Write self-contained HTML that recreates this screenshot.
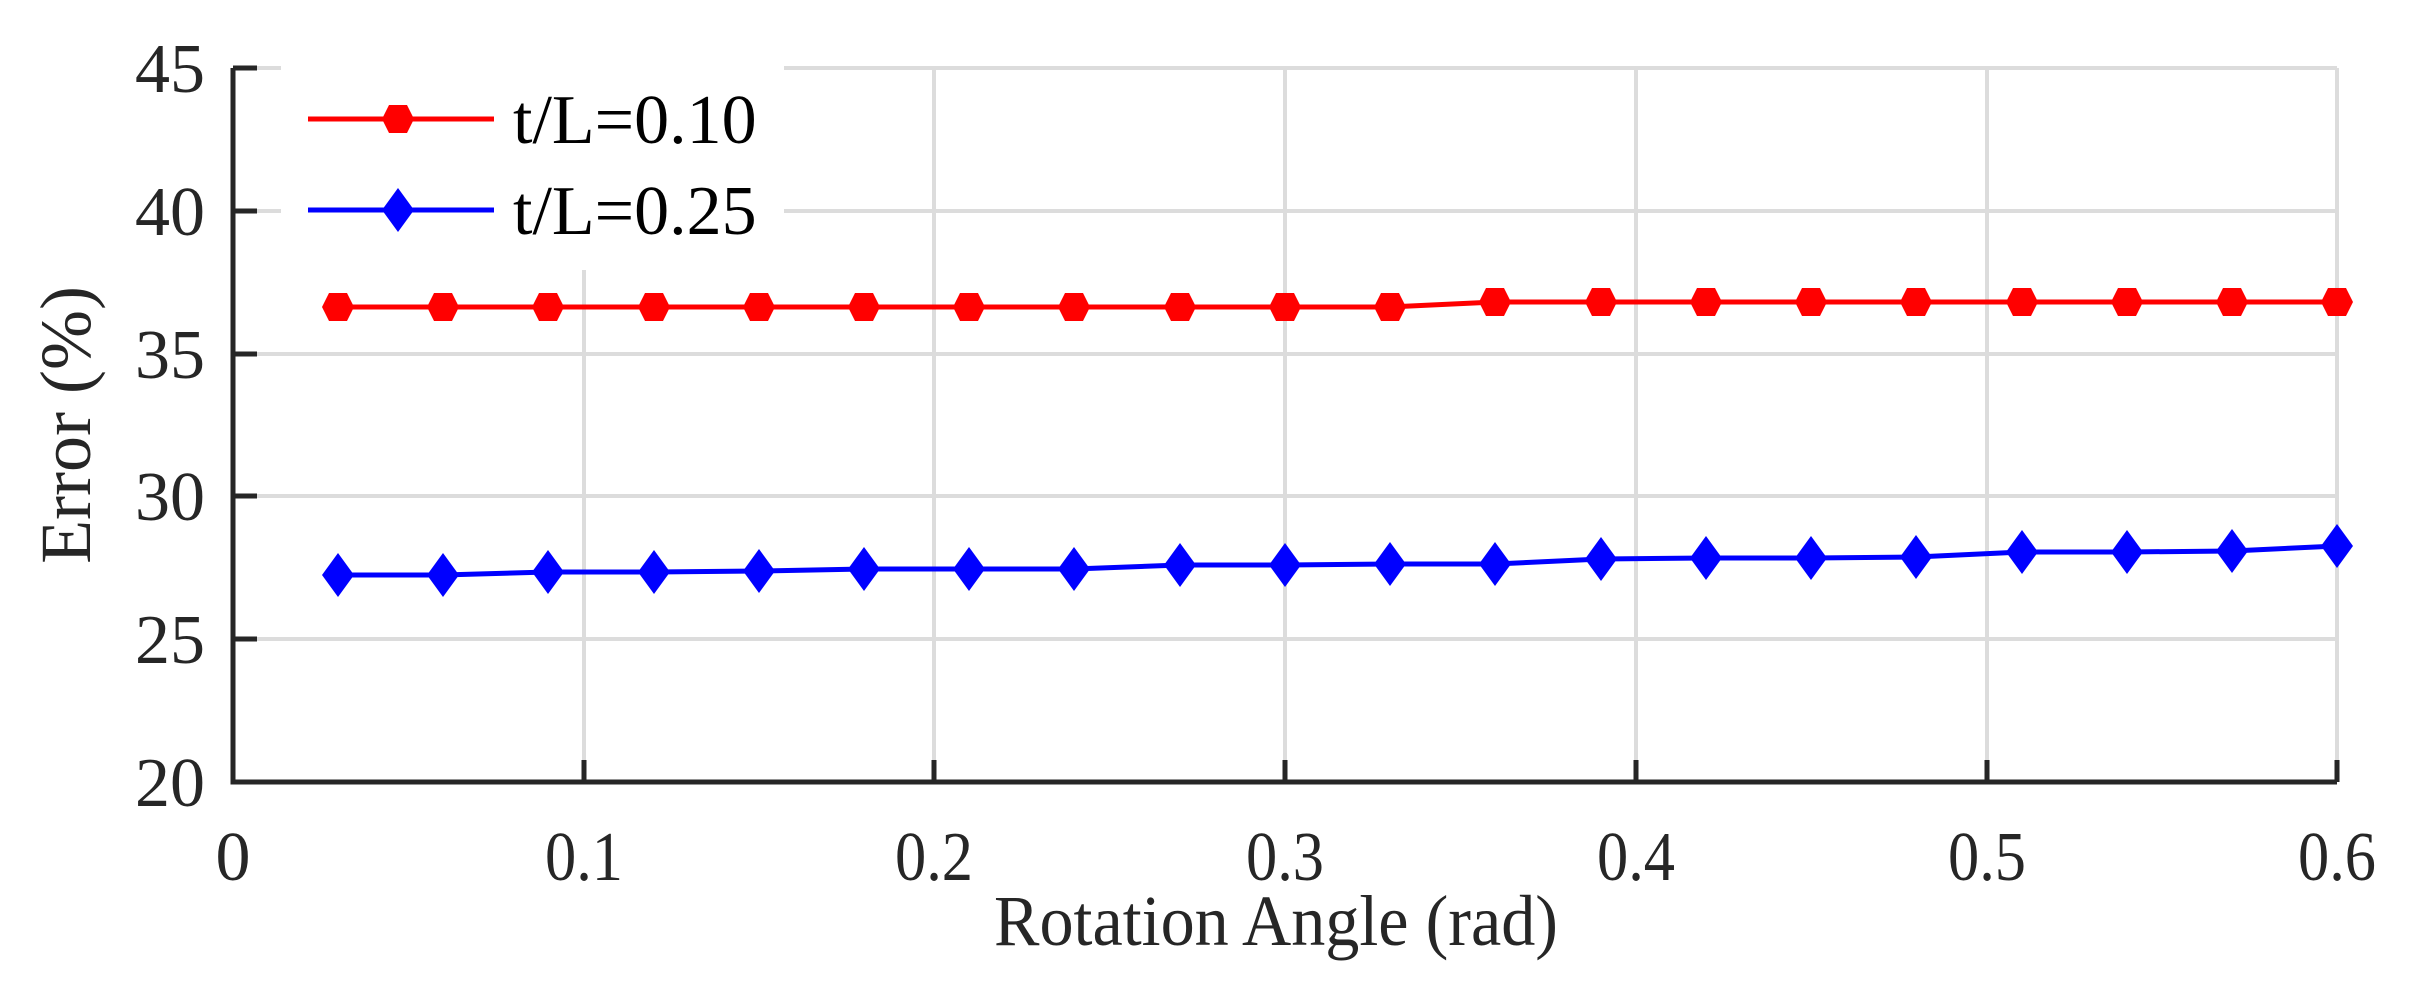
<!DOCTYPE html>
<html><head><meta charset="utf-8"><style>html,body{margin:0;padding:0;background:#fff}svg{display:block}</style></head>
<body>
<svg width="2424" height="991" viewBox="0 0 2424 991" xmlns="http://www.w3.org/2000/svg" font-family="Liberation Serif, serif">
<rect width="2424" height="991" fill="#fff"/>
<g stroke="#dcdcdc" stroke-width="4">
<line x1="584" y1="68" x2="584" y2="782"/>
<line x1="934" y1="68" x2="934" y2="782"/>
<line x1="1285" y1="68" x2="1285" y2="782"/>
<line x1="1636" y1="68" x2="1636" y2="782"/>
<line x1="1987" y1="68" x2="1987" y2="782"/>
<line x1="2337" y1="68" x2="2337" y2="782"/>
<line x1="233" y1="68" x2="2337" y2="68"/>
<line x1="233" y1="211" x2="2337" y2="211"/>
<line x1="233" y1="354" x2="2337" y2="354"/>
<line x1="233" y1="496" x2="2337" y2="496"/>
<line x1="233" y1="639" x2="2337" y2="639"/>
</g>
<rect x="281" y="60" width="503" height="210" fill="#fff"/>
<g stroke="#262626" stroke-width="5" fill="none">
<path d="M233,68 V782 H2337"/>
<path d="M233,68 h24 M233,211 h24 M233,354 h24 M233,496 h24 M233,639 h24"/>
<path d="M584,782 v-22 M934,782 v-22 M1285,782 v-22 M1636,782 v-22 M1987,782 v-22 M2337,782 v-22"/>
</g>
<g fill="#262626" font-size="70" text-anchor="end">
<text x="205" y="92">45</text>
<text x="205" y="235">40</text>
<text x="205" y="378">35</text>
<text x="205" y="520">30</text>
<text x="205" y="663">25</text>
<text x="205" y="806">20</text>
</g>
<g fill="#262626" font-size="70" text-anchor="middle">
<text x="233" y="880">0</text>
<text x="584" y="880" textLength="78" lengthAdjust="spacingAndGlyphs">0.1</text>
<text x="934" y="880" textLength="78" lengthAdjust="spacingAndGlyphs">0.2</text>
<text x="1285" y="880" textLength="78" lengthAdjust="spacingAndGlyphs">0.3</text>
<text x="1636" y="880" textLength="78" lengthAdjust="spacingAndGlyphs">0.4</text>
<text x="1987" y="880" textLength="78" lengthAdjust="spacingAndGlyphs">0.5</text>
<text x="2337" y="880" textLength="78" lengthAdjust="spacingAndGlyphs">0.6</text>
</g>
<text x="994" y="945" font-size="72" fill="#262626" textLength="564" lengthAdjust="spacingAndGlyphs">Rotation Angle (rad)</text>
<text transform="translate(90,425) rotate(-90)" font-size="72" fill="#262626" text-anchor="middle">Error (%)</text>
<defs>
<polygon id="hx" points="-16,0 -9,-14 9,-14 16,0 9,14 -9,14" fill="#f00"/>
<polygon id="dm" points="0,-22 16,0 0,22 -16,0" fill="#00f"/>
</defs>
<polyline fill="none" stroke="#f00" stroke-width="5" points="338,307 443,307 548,307 654,307 759,307 864,307 969,307 1074,307 1180,307 1285,307 1390,307 1495,302 1601,302 1706,302 1811,302 1916,302 2022,302 2127,302 2232,302 2337,302"/>
<g>
<use href="#hx" x="338" y="307"/><use href="#hx" x="443" y="307"/><use href="#hx" x="548" y="307"/><use href="#hx" x="654" y="307"/><use href="#hx" x="759" y="307"/><use href="#hx" x="864" y="307"/><use href="#hx" x="969" y="307"/><use href="#hx" x="1074" y="307"/><use href="#hx" x="1180" y="307"/><use href="#hx" x="1285" y="307"/><use href="#hx" x="1390" y="307"/><use href="#hx" x="1495" y="302"/><use href="#hx" x="1601" y="302"/><use href="#hx" x="1706" y="302"/><use href="#hx" x="1811" y="302"/><use href="#hx" x="1916" y="302"/><use href="#hx" x="2022" y="302"/><use href="#hx" x="2127" y="302"/><use href="#hx" x="2232" y="302"/><use href="#hx" x="2337" y="302"/>
</g>
<polyline fill="none" stroke="#00f" stroke-width="5" points="338,575 443,575 548,572 654,572 759,571 864,569 969,569 1074,569 1180,565 1285,565 1390,564 1495,564 1601,559 1706,558 1811,558 1916,557 2022,552 2127,552 2232,551 2337,546"/>
<g>
<use href="#dm" x="338" y="575"/><use href="#dm" x="443" y="575"/><use href="#dm" x="548" y="572"/><use href="#dm" x="654" y="572"/><use href="#dm" x="759" y="571"/><use href="#dm" x="864" y="569"/><use href="#dm" x="969" y="569"/><use href="#dm" x="1074" y="569"/><use href="#dm" x="1180" y="565"/><use href="#dm" x="1285" y="565"/><use href="#dm" x="1390" y="564"/><use href="#dm" x="1495" y="564"/><use href="#dm" x="1601" y="559"/><use href="#dm" x="1706" y="558"/><use href="#dm" x="1811" y="558"/><use href="#dm" x="1916" y="557"/><use href="#dm" x="2022" y="552"/><use href="#dm" x="2127" y="552"/><use href="#dm" x="2232" y="551"/><use href="#dm" x="2337" y="546"/>
</g>
<line x1="308" y1="119" x2="494" y2="119" stroke="#f00" stroke-width="5"/>
<use href="#hx" x="398" y="119"/>
<line x1="308" y1="210" x2="494" y2="210" stroke="#00f" stroke-width="5"/>
<use href="#dm" x="398" y="210"/>
<g font-size="70" fill="#000">
<text x="513" y="143">t/L=0.10</text>
<text x="513" y="234">t/L=0.25</text>
</g>
</svg>
</body></html>
